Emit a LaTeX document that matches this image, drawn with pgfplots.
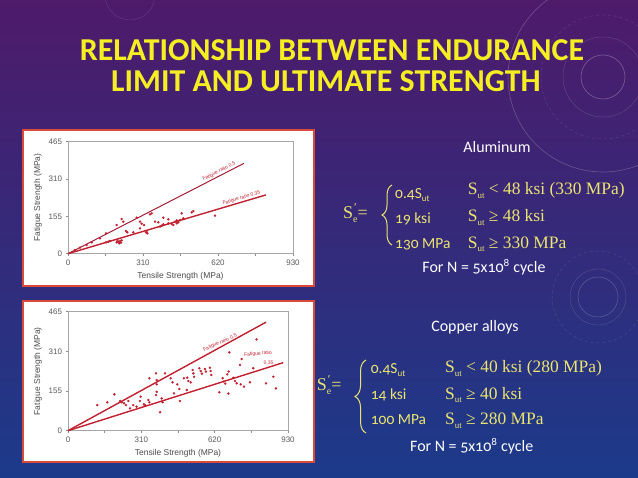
\documentclass[border=0pt]{standalone}
\usepackage{pgfplots}
\pgfplotsset{compat=1.18}
\usepackage{fontspec}
\setmainfont{Carlito}[Numbers=OldStyle]
\newfontfamily\tnr{Liberation Serif}
\newfontfamily\arial{Liberation Sans}
\usetikzlibrary{decorations.pathreplacing}
\definecolor{bgtop}{RGB}{78,26,106}
\definecolor{bgmid}{RGB}{46,36,116}
\definecolor{bgbot}{RGB}{28,58,138}
\definecolor{ttl}{RGB}{244,238,34}
\definecolor{fyel}{RGB}{234,228,112}
\definecolor{frm}{RGB}{218,74,58}
\definecolor{dred}{RGB}{192,32,48}
\definecolor{lred}{RGB}{165,30,55}
\newcommand{\fs}[1]{\fontsize{#1}{#1}\selectfont}
\newcommand{\Sut}{S\raisebox{-3.5bp}{\fs{9}ut}}
\newcommand{\Se}{S\raisebox{-4bp}{\fs{10}e}\hspace{-3.5bp}\raisebox{7bp}{\fs{12}\char"2032}\hspace{1bp}=}
\pgfplotsset{
  slide/.style={
    scale only axis, xmin=0, xmax=930, ymin=0, ymax=465,
    xtick={0,310,620,930}, ytick={0,155,310,465},
    minor xtick={155,465,775},
    xtick pos=bottom, ytick pos=left,
    tick align=outside, major tick length=2.5bp, minor tick length=2.5bp,
    tick style={black!45, line width=0.5bp},
    axis line style={black!35, line width=0.6bp},
    /pgf/number format/assume math mode=true,
    ticklabel style={font=\arial\fs{8}, text=black!65},
    xlabel={Tensile Strength (MPa)}, ylabel={Fatigue Strength (MPa)},
    label style={font=\arial\fs{8.5}, text=black!70},
    clip=false,
  }
}
\begin{document}
\begin{tikzpicture}
\begin{scope}[x=1bp,y=1bp]
\useasboundingbox (0,0) rectangle (638,478);
\clip (0,0) rectangle (638,478);
\shade[top color=bgtop, middle color=bgmid, bottom color=bgbot] (0,0) rectangle (638,478);
% decorative circles
\draw[white, opacity=0.28, line width=0.6] (603,401) circle (22);
\draw[white, opacity=0.15, line width=0.5] (603,401) circle (40);
\draw[white, opacity=0.12, line width=0.5, dashed] (603,401) circle (62);
\draw[white, opacity=0.2, line width=0.7] (603,401) circle (95);
\draw[white, opacity=0.2, line width=0.6] (598,181) circle (20);
\draw[white, opacity=0.14, line width=0.5] (598,181) circle (28);
\draw[white, opacity=0.12, line width=0.5, dashed] (598,181) circle (46);
\draw[white, opacity=0.12, line width=0.5] (130,483) circle (25);
% title
\node[anchor=base, inner sep=0, text=ttl, font=\bfseries\fs{32}] at (332,417) {RELATIONSHIP BETWEEN ENDURANCE};
\node[anchor=base, inner sep=0, text=ttl, font=\bfseries\fs{32}] at (326,386) {LIMIT AND ULTIMATE STRENGTH};
% chart panels
\draw[fill=white, draw=frm, line width=2] (23,192.3) rectangle (314,348);
\draw[fill=white, draw=frm, line width=2] (23,16) rectangle (314,177);
% Aluminum text
\node[anchor=base, inner sep=0, text=white, font=\fs{16}] at (497,325.3) {Aluminum};
\node[anchor=base west, inner sep=0, text=fyel, font=\tnr\fs{18}] at (343,259) {\Se};
\draw[fyel, line width=1, decorate, decoration={brace, amplitude=10}] (392,233) -- (392,293);
\node[anchor=base west, inner sep=0, text=fyel, font=\fs{15.5}] at (395,279.5) {0.4\Sut};
\node[anchor=base west, inner sep=0, text=fyel, font=\fs{15.5}] at (395,254.7) {19 ksi};
\node[anchor=base west, inner sep=0, text=fyel, font=\fs{15.5}] at (395,229.7) {130 MPa};
\node[anchor=base west, inner sep=0, text=fyel, font=\tnr\fs{17.5}] at (467.7,283) {\Sut{} < 48 ksi (330 MPa)};
\node[anchor=base west, inner sep=0, text=fyel, font=\tnr\fs{17.5}] at (467.7,256.3) {\Sut{} ≥ 48 ksi};
\node[anchor=base west, inner sep=0, text=fyel, font=\tnr\fs{17.5}] at (467.7,229.7) {\Sut{} ≥ 330 MPa};
\node[anchor=base, inner sep=0, text=white, font=\fs{16}] at (484,205.3) {For N = 5x10\textsuperscript{8} cycle};
% Copper text
\node[anchor=base, inner sep=0, text=white, font=\fs{16}] at (475,146.3) {Copper alloys};
\node[anchor=base west, inner sep=0, text=fyel, font=\tnr\fs{18}] at (316.7,87) {\Se};
\draw[fyel, line width=1, decorate, decoration={brace, amplitude=11}] (366,45) -- (366,118);
\node[anchor=base west, inner sep=0, text=fyel, font=\fs{15.5}] at (370.7,104.7) {0.4\Sut};
\node[anchor=base west, inner sep=0, text=fyel, font=\fs{15.5}] at (370.7,78.7) {14 ksi};
\node[anchor=base west, inner sep=0, text=fyel, font=\fs{15.5}] at (370.7,53) {100 MPa};
\node[anchor=base west, inner sep=0, text=fyel, font=\tnr\fs{17.5}] at (445,105.3) {\Sut{} < 40 ksi (280 MPa)};
\node[anchor=base west, inner sep=0, text=fyel, font=\tnr\fs{17.5}] at (445,78.7) {\Sut{} ≥ 40 ksi};
\node[anchor=base west, inner sep=0, text=fyel, font=\tnr\fs{17.5}] at (445,53) {\Sut{} ≥ 280 MPa};
\node[anchor=base, inner sep=0, text=white, font=\fs{16}] at (471.7,26.3) {For N = 5x10\textsuperscript{8} cycle};
\end{scope}

% Chart 1: Aluminum
\begin{axis}[slide, at={(68bp,224.3bp)}, anchor=south west, width=225bp, height=112bp]
\addplot[no marks, color=lred, line width=1bp] coordinates {(0,0) (727,375)};
\addplot[no marks, color=dred, line width=1.4bp] coordinates {(0,0) (818,244)};
\addplot[only marks, mark=*, mark size=1bp, color=dred] coordinates {
(28.9,15.2) (49.6,24.9) (77.2,36.0) (97.8,47.1) (132.3,63.7) (157.1,84.4)
(157.1,47.1) (166.7,49.8) (173.6,52.6) (201.2,47.1) (208.1,49.8) (215.0,52.6)
(221.9,55.4) (203.9,56.7) (212.2,42.9) (219.1,45.7) (201.2,119.0) (221.9,143.9)
(228.7,132.9) (239.8,94.1) (245.3,88.6) (283.9,149.5) (297.6,132.9) (304.5,124.6)
(314.2,119.0) (325.2,94.1) (328.0,84.4) (322.5,88.6) (345.9,167.5) (339.0,163.3)
(359.7,132.9) (373.4,130.1) (387.2,116.3) (394.1,121.8) (380.3,112.1) (394.1,149.5)
(414.8,142.6) (414.8,125.9) (428.6,123.2) (435.4,119.0) (442.3,132.9) (449.2,138.4)
(456.1,130.1) (469.9,167.5) (476.8,146.7) (463.0,139.8) (511.2,171.6) (518.1,177.2)
(607.7,157.8) (270.1,88.6) (297.6,105.2) (449.2,125.9)
};
\node[font=\arial\fs{5}, text=dred, rotate=27, anchor=south, inner sep=1.5bp] at (axis cs:632,326) {Fatigue ratio 0.5};
\node[font=\arial\fs{5}, text=dred, rotate=17, anchor=south, inner sep=1.5bp] at (axis cs:722,215) {Fatigue ratio 0.35};
\end{axis}

% Chart 2: Copper alloys
\begin{axis}[slide, at={(68bp,47.3bp)}, anchor=south west, width=220bp, height=119bp]
\addplot[no marks, color=dred, line width=1.4bp] coordinates {(0,0) (837,424)};
\addplot[no marks, color=dred, line width=1.4bp] coordinates {(0,0) (910,266)};
\addplot[only marks, mark=*, mark size=1bp, color=dred] coordinates {
(124,100) (166,111) (196,142) (220,116) (227,111) (237,107) (245,100) (255,116)
(276,100) (304,116) (307,133) (321,103) (340,120) (344,111) (344,205) (372,224)
(375,198) (375,181) (375,152) (372,139) (389,72) (396,126) (400,111) (410,224)
(434,205) (442,189) (448,146) (462,181) (471,163) (473,116) (490,205) (504,207)
(509,194) (519,189) (502,159) (527,237) (530,224) (533,211) (555,244) (561,233)
(566,223) (579,241) (583,231) (600,246) (603,233) (606,218) (640,150) (654,205)
(659,192) (665,184) (673,220) (679,231) (682,306) (678,145) (699,207) (706,194)
(713,185) (727,257) (730,181) (744,172) (783,244) (797,357) (837,185) (868,211)
(879,165) (769,189) (734,280) (262,87) (290,94) (325,100)
};
\node[font=\arial\fs{5}, text=dred, rotate=24, anchor=south, inner sep=1.5bp] at (axis cs:650,329) {Fatigue ratio 0.5};
\node[font=\arial\fs{5}, text=dred, rotate=5, inner sep=0] at (axis cs:803,300) {Fatigue ratio};
\node[font=\arial\fs{5}, text=dred, rotate=5, inner sep=0] at (axis cs:848,266) {0.35};
\end{axis}
\end{tikzpicture}
\end{document}
